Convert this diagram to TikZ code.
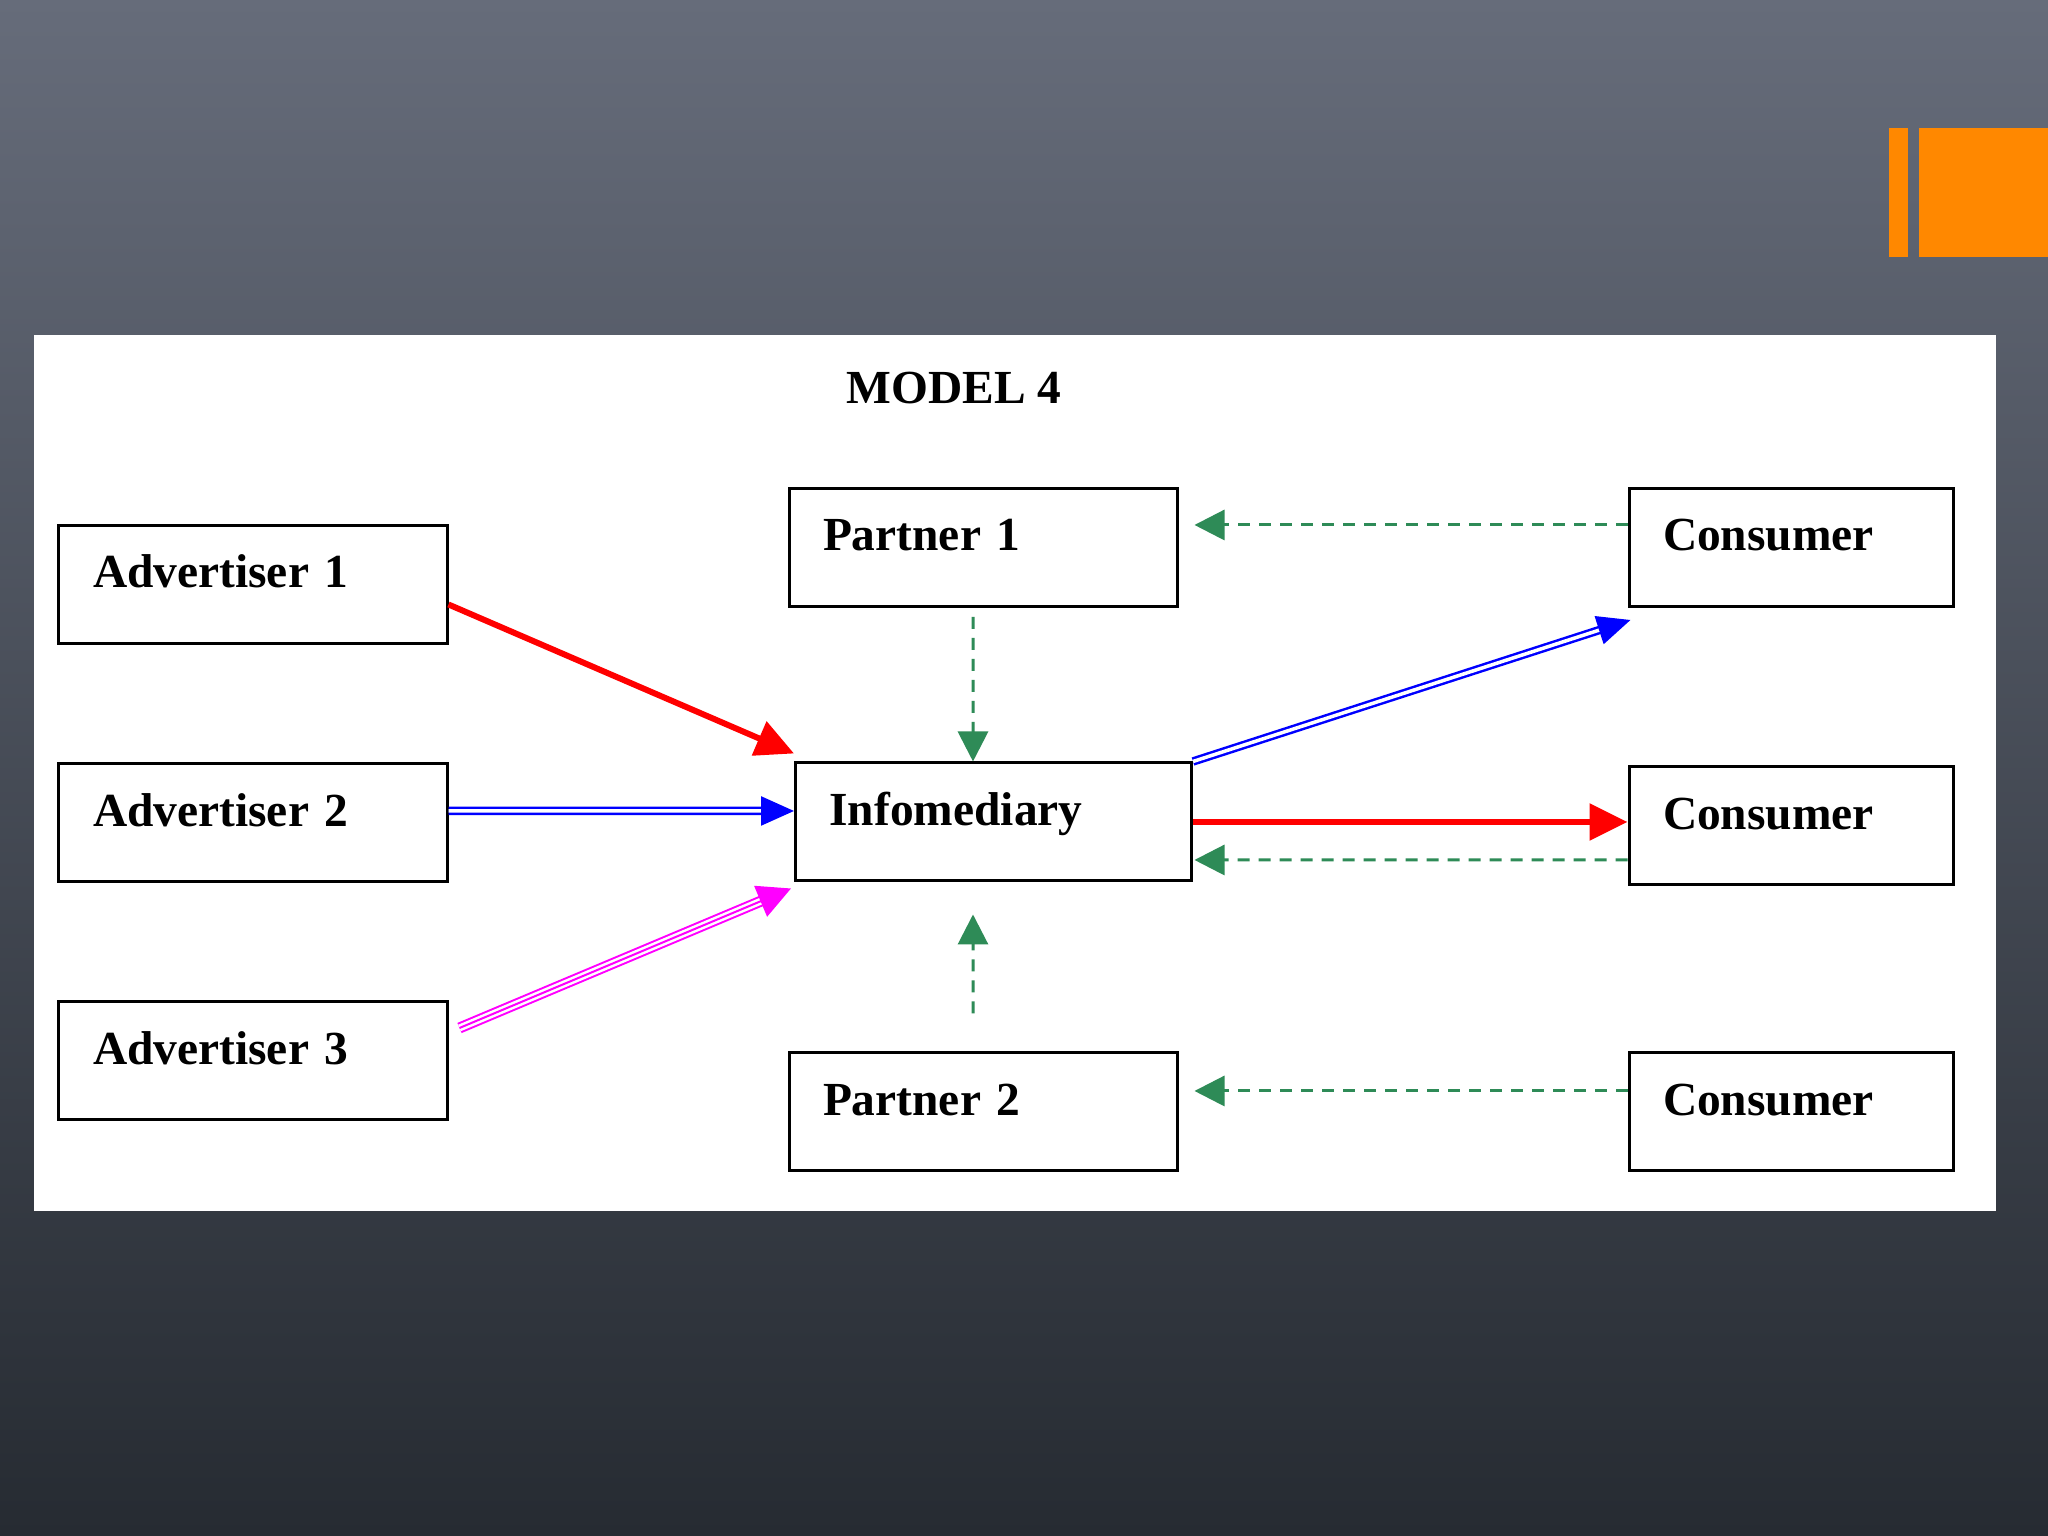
\documentclass[tikz,border=0pt]{standalone}
\usepackage{fontspec}
\setmainfont{Liberation Serif}
\usetikzlibrary{arrows.meta}
\definecolor{bgtop}{RGB}{102,108,122}
\definecolor{bgbot}{RGB}{38,43,50}
\definecolor{accent}{RGB}{255,136,0}
\definecolor{seagrn}{RGB}{46,139,87}
\definecolor{mag}{RGB}{255,0,255}

\begin{document}
\begin{tikzpicture}[>=Triangle,
  actor/.style={draw=black,line width=0.03cm,fill=white,minimum width=3.88cm,minimum height=1.18cm,text width=3.2cm,align=left,inner xsep=0.34cm,text height=0.4cm,text depth=0.33cm,font=\bfseries\fontsize{13.5}{16}\selectfont},
  redarrow/.style={draw=red,line width=0.06cm,-{Triangle[length=0.38cm,width=0.36cm]}},
  bluedouble/.style={draw=blue,double=white,double distance=0.035cm,line width=0.025cm,-{Triangle[length=0.33cm,width=0.29cm]}},
  triple/.style={draw=white,double=mag,double distance=0.02cm,line width=0.025cm,-{Triangle[length=0.33cm,width=0.33cm,color=mag]},preaction={draw=mag,line width=0.11cm,-,shorten >=0.2cm}},
  feedback/.style={draw=seagrn,line width=0.03cm,dash pattern=on 0.12cm off 0.09cm,-{Triangle[length=0.3cm,width=0.3cm]}}]
\useasboundingbox (0,0) rectangle (20.48,15.36);
\fill[top color=bgtop,bottom color=bgbot] (0,0) rectangle (20.48,15.36);
\fill[accent] (18.89,12.79) rectangle (19.08,14.08);
\fill[accent] (19.19,12.79) rectangle (20.48,14.08);
\fill[white] (0.34,3.25) rectangle (19.96,12.01);
\node[font=\bfseries\fontsize{13.5}{16}\selectfont,anchor=base] (title) at (9.54,11.32) {MODEL 4};
% left column
\node[actor] (adv1) at (2.53,9.515) {Advertiser 1};
\node[actor] (adv2) at (2.53,7.13) {Advertiser 2};
\node[actor] (adv3) at (2.53,4.75) {Advertiser 3};
% middle column
\node[actor] (part1) at (9.83,9.885) {Partner 1};
\node[actor,minimum width=3.96cm,text width=3.28cm] (info) at (9.935,7.14) {Infomediary};
\node[actor] (part2) at (9.83,4.24) {Partner 2};
% right column
\node[actor,minimum width=3.24cm,text width=2.56cm] (cons1) at (17.91,9.885) {Consumer};
\node[actor,minimum width=3.24cm,text width=2.56cm] (cons2) at (17.91,7.10) {Consumer};
\node[actor,minimum width=3.24cm,text width=2.56cm] (cons3) at (17.91,4.24) {Consumer};
\draw[redarrow] ([yshift=-0.2cm]adv1.east) -- ([yshift=0.08cm]info.north west);
\draw[bluedouble] ([yshift=0.12cm]adv2.east) -- ([yshift=0.11cm]info.west);
\draw[triple] ([shift={(0.11,0.33)}]adv3.east) -- ([shift={(-0.03,-0.06)}]info.south west);
\draw[feedback] ([shift={(-0.1,-0.09)}]part1.south) -- ([xshift=-0.205cm]info.north);
\draw[feedback] ([shift={(-0.1,0.38)}]part2.north) -- ([shift={(-0.205,-0.32)}]info.south);
\draw[feedback] ([yshift=0.225cm]cons1.west) -- ([shift={(0.16,0.225)}]part1.east);
\draw[bluedouble] (info.north east) -- ([shift={(0.03,-0.12)}]cons1.south west);
\draw[redarrow] (info.east) -- ([yshift=0.04cm]cons2.west);
\draw[feedback] ([yshift=-0.34cm]cons2.west) -- ([shift={(0.015,-0.38)}]info.east);
\draw[feedback] ([yshift=0.21cm]cons3.west) -- ([shift={(0.16,0.21)}]part2.east);
\end{tikzpicture}
\end{document}
